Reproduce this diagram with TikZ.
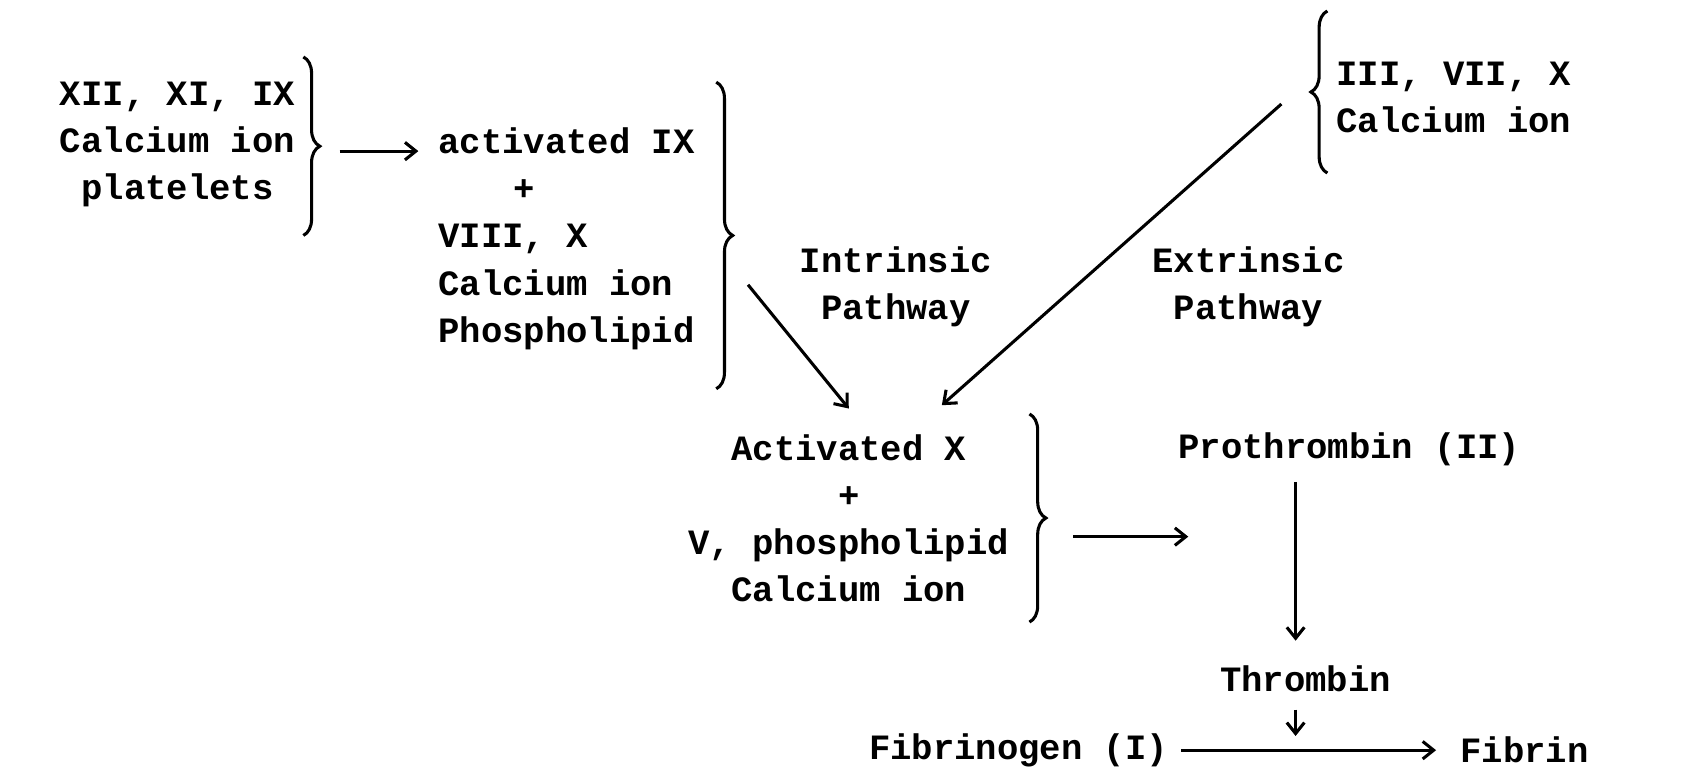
\documentclass[tikz,border=0pt]{standalone}
\usepackage{fontspec}
\setmonofont{Liberation Mono}
\usetikzlibrary{decorations.pathreplacing,arrows.meta}
\begin{document}
\begin{tikzpicture}[x=1pt,y=-1pt,
  t/.style={font=\ttfamily\bfseries\fontsize{32.5}{43}\selectfont, inner sep=0pt, align=center},
  tl/.style={t, align=left},
  ar/.style={line width=2.8pt,-{Straight Barb[length=10pt,width=16pt]}},
  br/.style={line width=2.8pt, decorate, decoration={brace, amplitude=15pt}}]
\useasboundingbox (0,0) rectangle (1555,709);
\node[t] (g1) at (162,132) {XII, XI, IX\\Calcium ion\\platelets};
\draw[br] (277,52) -- (277,215);
\coordinate (a1s) at (310,138); \coordinate (a1e) at (382,138);
\draw[ar] (a1s) -- (a1e);
\node[tl, anchor=west] (g2) at (400,218) {activated IX\\\hspace*{2.1em}+\\VIII, X\\Calcium ion\\Phospholipid};
\draw[br] (654,75) -- (654,355);
\node[t] (intr) at (818,262) {Intrinsic\\Pathway};
\node[t] (extr) at (1140,262) {Extrinsic\\Pathway};
\draw[br] (1212,158) -- (1212,10);
\node[tl, anchor=west] (g4) at (1220,89) {III, VII, X\\Calcium ion};
\node[t] (g3) at (775,473) {Activated X\\+\\V, phospholipid\\Calcium ion};
\draw[br] (940,378) -- (940,568);
\coordinate (p1) at (683,260); \coordinate (p2) at (775,373);
\coordinate (q1) at (1170,95); \coordinate (q2) at (860,370);
\draw[ar] (p1) -- (p2);
\draw[ar] (q1) -- (q2);
\coordinate (r1) at (980,490); \coordinate (r2) at (1085,490);
\draw[ar] (r1) -- (r2);
\node[t] (pro) at (1232,410) {Prothrombin (II)};
\node[t] (thr) at (1192,620) {Thrombin};
\draw[ar] (1183,440) -- (1183,585);
\draw[ar] (1183,648) -- (1183,672);
\node[t] (fbg) at (930,685) {Fibrinogen (I)};
\node[t] (fib) at (1392,685) {Fibrin};
\draw[ar] ([xshift=12pt]fbg.east) -- ([xshift=-22pt]fib.west);
\end{tikzpicture}
\end{document}
